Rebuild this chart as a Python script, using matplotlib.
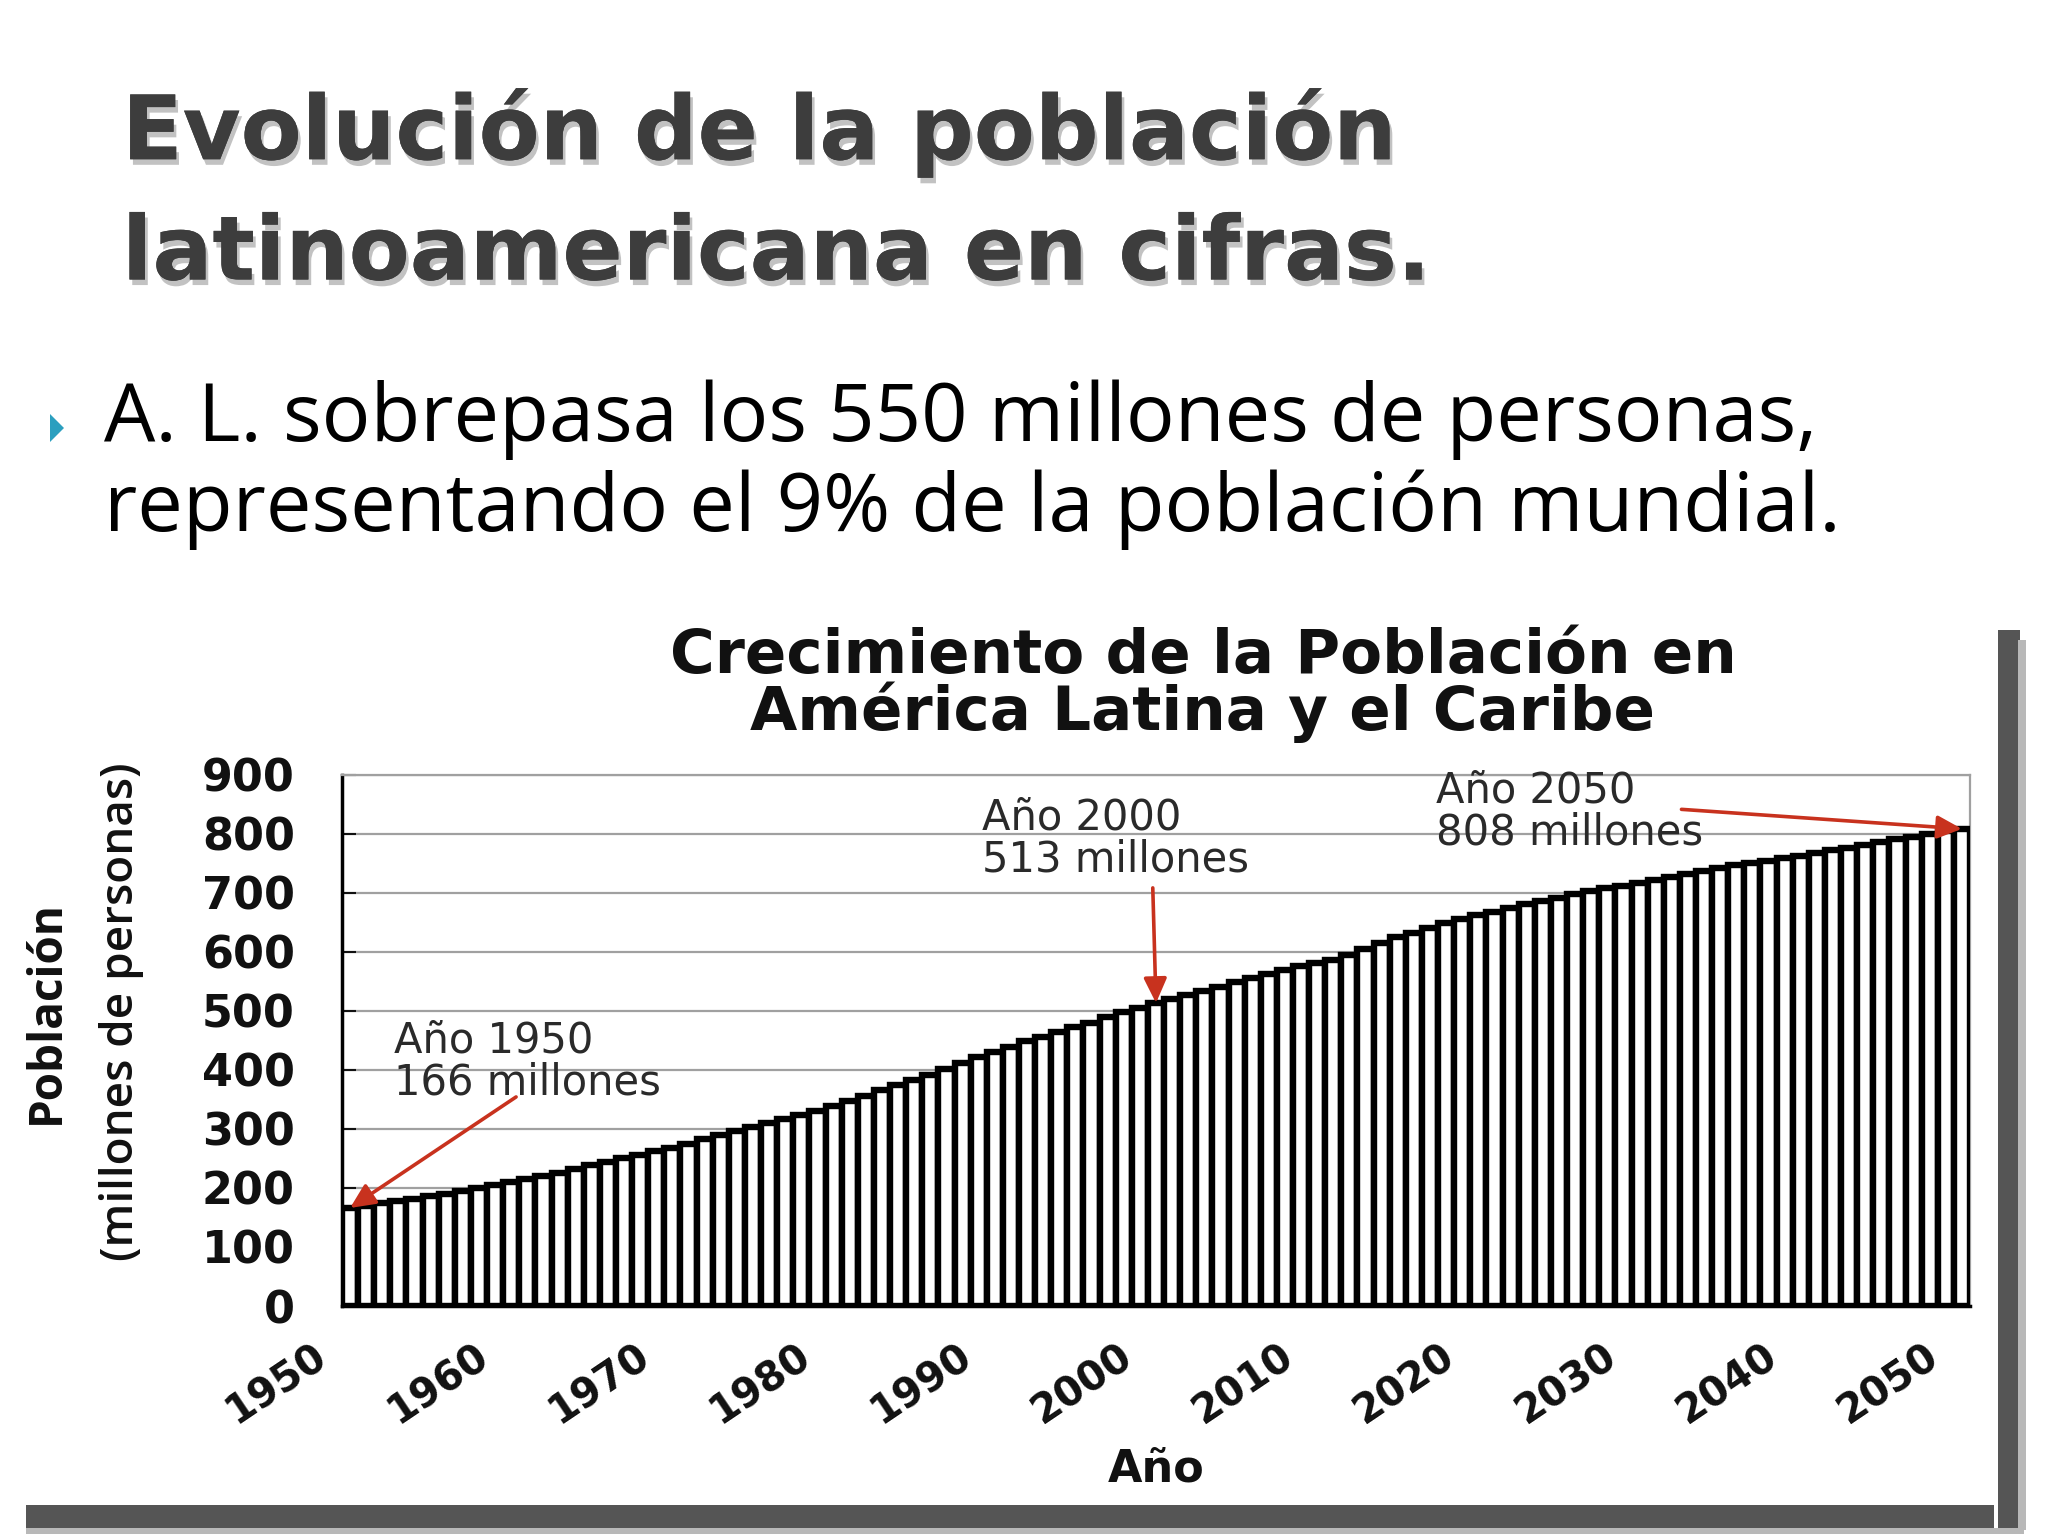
# Evolución de la población latinoamericana - recreación de la diapositiva
import matplotlib
matplotlib.use("Agg")
import matplotlib.pyplot as plt
import matplotlib.patheffects as pe
import matplotlib.transforms as mtransforms
from matplotlib.patches import Rectangle, Polygon

# datos (millones de personas)
years = list(range(1950, 2051))
population = [
    166, 170, 174, 178, 182, 186, 190, 195, 200, 205,
    210, 215, 220, 226, 232, 238, 244, 250, 256, 262,
    268, 275, 282, 289, 296, 303, 310, 317, 324, 331,
    338, 347, 356, 365, 374, 383, 392, 402, 412, 421,
    430, 439, 448, 456, 464, 472, 480, 489, 497, 505,
    513, 520, 527, 534, 541, 548, 555, 562, 569, 575,
    580, 586, 595, 605, 615, 624, 632, 640, 648, 655,
    662, 668, 674, 680, 686, 691, 697, 702, 707, 712,
    716, 721, 726, 731, 736, 741, 746, 750, 754, 758,
    762, 767, 772, 776, 780, 785, 790, 795, 800, 804,
    808,
]
tick_years = list(range(1950, 2051, 10))
y_ticks = list(range(0, 901, 100))

notes = ["Año 1950\n166 millones", "Año 2000\n513 millones", "Año 2050\n808 millones"]
note_years = [1950, 2000, 2050]
note_values = [166, 513, 808]

W, H = 2048, 1536


def fx(px):
    return px / W


def fy(py):
    return 1 - py / H


fig = plt.figure(figsize=(20.48, 15.36), dpi=100)
fig.patch.set_facecolor("white")

# titulo de la diapositiva
shadow = [pe.withSimplePatchShadow(offset=(2, -4), shadow_rgbFace="#9a9a9a", alpha=0.6), pe.Normal()]
for txt, py in [("Evolución de la población", 133), ("latinoamericana en cifras.", 255)]:
    fig.text(fx(122), fy(py), txt, fontsize=64, family="DejaVu Sans", fontweight="bold",
             color="#3d3d3d", va="center", ha="left", path_effects=shadow)

# viñeta y texto
fig.patches.append(Polygon([[fx(50), fy(414)], [fx(50), fy(442)], [fx(64), fy(428)]],
                           closed=True, transform=fig.transFigure, facecolor="#2b9fbf",
                           edgecolor="none"))
fig.text(fx(104), fy(420), "A. L. sobrepasa los 550 millones de personas,", fontsize=58.5,
         family="Open Sans", color="black", va="center", ha="left")
fig.text(fx(104), fy(510), "representando el 9% de la población mundial.", fontsize=58.5,
         family="Open Sans", color="black", va="center", ha="left")

# marco de la imagen con sombra
fig.patches.append(Rectangle((fx(1998), fy(1528)), fx(22), fy(630) - fy(1528),
                             transform=fig.transFigure, facecolor="#555555", edgecolor="none"))
fig.patches.append(Rectangle((fx(26), fy(1528)), fx(1994) - fx(26), fy(1505) - fy(1528),
                             transform=fig.transFigure, facecolor="#555555", edgecolor="none"))
fig.patches.append(Rectangle((fx(2018), fy(1530)), fx(8), fy(640) - fy(1530),
                             transform=fig.transFigure, facecolor="#b8b8b8", edgecolor="none"))
fig.patches.append(Rectangle((fx(26), fy(1534)), fx(2024) - fx(26), fy(1528) - fy(1534),
                             transform=fig.transFigure, facecolor="#b8b8b8", edgecolor="none"))

# titulo del grafico
fig.text(fx(1203), fy(657), "Crecimiento de la Población en", fontsize=44,
         fontweight="bold", ha="center", va="center", color="#111111")
fig.text(fx(1203), fy(712), "América Latina y el Caribe", fontsize=44,
         fontweight="bold", ha="center", va="center", color="#111111")

# etiquetas del eje y
fig.text(fx(46), fy(1012), "Población", fontsize=33, family="Open Sans", fontweight="bold",
         rotation=90, ha="center", va="center", color="#111111")
fig.text(fx(121), fy(1012), "(millones de personas)", fontsize=33, family="Open Sans",
         fontweight="semibold", rotation=90, ha="center", va="center", color="#111111")

ax = fig.add_axes([fx(342), fy(1306), fx(1970) - fx(342), fy(774.5) - fy(1306)])
ax.bar(years, population, width=1.0, color="white", edgecolor="black", linewidth=4.6, zorder=3)

ax.set_xlim(1949.5, 2050.5)
ax.set_ylim(0, 900)
ax.set_yticks(y_ticks)
ax.set_yticklabels([str(v) for v in y_ticks], fontsize=32, fontweight="bold")
ax.set_xticks(tick_years)
ax.set_xticklabels([str(v) for v in tick_years], fontsize=29, fontweight="bold",
                   rotation=34, ha="right", va="top", rotation_mode="anchor")
ax.tick_params(axis="y", direction="in", length=10, width=1.5, pad=34, colors="#111111")
ax.tick_params(axis="x", length=0, pad=22, colors="#111111")
# las etiquetas del eje x quedan a la izquierda de cada marca
shift = mtransforms.ScaledTranslation(-0.38, 0, fig.dpi_scale_trans)
for lab in ax.get_xticklabels():
    lab.set_transform(lab.get_transform() + shift)
ax.grid(axis="y", color="#a0a0a0", linewidth=1.6, zorder=0)
ax.set_axisbelow(True)
ax.spines["left"].set_color("black")
ax.spines["left"].set_linewidth(2.5)
for s in ["top", "right"]:
    ax.spines[s].set_color("#a0a0a0")
    ax.spines[s].set_linewidth(1.6)
ax.spines["bottom"].set_linewidth(2.5)

fig.text(fx(1156), fy(1469), "Año", fontsize=32, fontweight="bold", ha="center",
         va="center", color="#111111")

# anotaciones con flechas
text_pos = [(1952.7, 414), (1989.2, 791), (2017.4, 837)]
tail_pos = [(1960.3, 354), (1999.8, 708), (2032.6, 841)]
for note, ny, nv, tp, tl in zip(notes, note_years, note_values, text_pos, tail_pos):
    ax.text(tp[0], tp[1], note, fontsize=30, color="#2a2a2a", ha="left", va="center",
            linespacing=1.0, zorder=5)
    ax.annotate("", xy=(ny, nv), xytext=tl,
                arrowprops=dict(arrowstyle="-|>,head_length=1.5,head_width=0.7",
                                color="#c8321e", lw=2.6, shrinkA=0, shrinkB=0),
                zorder=6, annotation_clip=False)

fig.savefig("out.png", dpi=100, facecolor="white")
